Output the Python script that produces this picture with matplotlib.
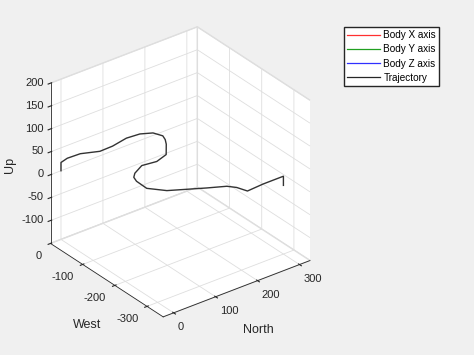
import matplotlib
matplotlib.use("Agg")
import matplotlib.pyplot as plt
import numpy as np
from mpl_toolkits.mplot3d import proj3d

plt.rcParams['font.family'] = ['Liberation Sans', 'DejaVu Sans']
plt.rcParams['axes.unicode_minus'] = False
plt.rcParams['grid.color'] = '#dedede'
plt.rcParams['grid.linewidth'] = 0.6

# trajectory (North, West, Up)
north = [0, 0, 15, 46, 82, 113, 152, 182, 204, 212, 207, 198, 174, 144, 112,
         84, 73, 68, 67, 92, 125, 158, 192, 204, 212, 252, 300, 300]
west = [0, 0, 0, 0, -14, -13, -5, -8, -20, -40, -54, -69, -100, -110, -105,
        -120, -131, -146, -179, -209, -228, -247, -265, -280, -303, -300, -300, -300]
up = [0, 18, 22, 21, 20, 20, 20, 20, 20, 20, 20, 20, 20, 20, 20,
      20, 20, 20, 20, 20, 20, 20, 20, 20, 20, 20, 20, 0]

north_lim = (-25, 325)
west_lim = (-350, 0)
up_lim = (-150, 200)
north_ticks = [0, 100, 200, 300]
west_ticks = [-300, -200, -100, 0]
up_ticks = [-100, -50, 0, 50, 100, 150, 200]

legend_names = ['Body X axis', 'Body Y axis', 'Body Z axis', 'Trajectory']
legend_colors = ['#ff3030', '#20a020', '#3030ff', '#262626']

W, H = 474, 355
fig = plt.figure(figsize=(W / 100, H / 100), dpi=100, facecolor='#f0f0f0')
ax = fig.add_axes([0.1, 0.1, 0.6, 0.8], projection='3d', proj_type='ortho')
ax.set_facecolor('none')
ax.view_init(elev=30, azim=-127.5)

for name, col in zip(legend_names, legend_colors):
    ax.plot([], [], [], color=col, lw=0.9, label=name)
ax.plot(north, west, up, color='#333333', lw=1.0)

ax.set_xlim(*north_lim)
ax.set_ylim(*west_lim)
ax.set_zlim(*up_lim)
ax.set_box_aspect((1, 1, 1))
ax.set_xticks(north_ticks)
ax.set_yticks(west_ticks)
ax.set_zticks(up_ticks)

for axis in (ax.xaxis, ax.yaxis, ax.zaxis):
    axis.set_pane_color((1, 1, 1, 1))
    axis.pane.set_edgecolor('#dedede')
    axis.line.set_color('#262626')
    axis.line.set_linewidth(0.6)
ax.tick_params(axis='x', labelsize=8, colors='#262626', pad=-3.5)
ax.tick_params(axis='y', labelsize=8, colors='#262626', pad=-1)
ax.tick_params(axis='z', labelsize=8, colors='#262626', pad=-5)

# fit the box so that it lands where MATLAB put it
fig.canvas.draw()
cx = [north_lim[i] for i in (0, 1) for j in (0, 1) for k in (0, 1)]
cy = [west_lim[j] for i in (0, 1) for j in (0, 1) for k in (0, 1)]
cz = [up_lim[k] for i in (0, 1) for j in (0, 1) for k in (0, 1)]
px, py, _ = proj3d.proj_transform(cx, cy, cz, ax.get_proj())
pts = ax.transData.transform(np.column_stack([px, py]))
bb = ax.get_position(original=False)
side = bb.width * W
acx, acy = (bb.x0 + bb.width / 2) * W, (bb.y0 + bb.height / 2) * H
target = (50.5, 310.0, H - 315.0, H - 28.7)
s = (target[1] - target[0]) / (pts[:, 0].max() - pts[:, 0].min())
ccx = (pts[:, 0].max() + pts[:, 0].min()) / 2
ccy = (pts[:, 1].max() + pts[:, 1].min()) / 2
ncx = (target[0] + target[1]) / 2 - s * (ccx - acx)
ncy = (target[2] + target[3]) / 2 - s * (ccy - acy)
nside = side * s
ax.set_position([(ncx - nside / 2) / W, (ncy - nside / 2) / H, nside / W, nside / H])

# tick label alignment like MATLAB
for t in ax.xaxis.get_major_ticks():
    t.label1.set_ha('left')
for t in ax.yaxis.get_major_ticks():
    t.label1.set_ha('right')
    t.label1.set_va('center')
for t in ax.zaxis.get_major_ticks():
    t.label1.set_ha('right')
    t.label1.set_va('center')

# MATLAB keeps the axis titles upright
lab = dict(fontsize=9, color='#262626', ha='center', va='center')
fig.text(258 / W, 1 - 330 / H, 'North', **lab)
fig.text(87 / W, 1 - 325 / H, 'West', **lab)
fig.text(10 / W, 1 - 165 / H, 'Up', rotation=90, **lab)

fig.legend(loc='upper left', bbox_to_anchor=(344 / W, 1 - 26.7 / H),
           fontsize=7.2, frameon=True, fancybox=False, edgecolor='#262626',
           framealpha=1, handlelength=3.3, handletextpad=0.3,
           labelspacing=0.43, borderpad=0.33, borderaxespad=0)

fig.savefig('out.png', dpi=100, facecolor=fig.get_facecolor())
